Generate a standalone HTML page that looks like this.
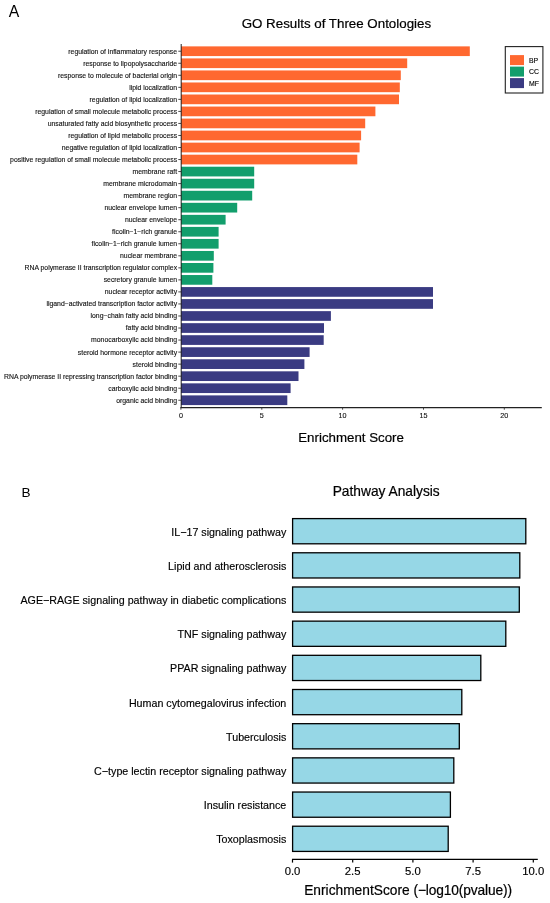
<!DOCTYPE html>
<html><head><meta charset="utf-8"><title>GO Results and Pathway Analysis</title>
<style>html,body{margin:0;padding:0;background:#fff}svg{display:block}</style></head>
<body>
<svg width="550" height="903" viewBox="0 0 550 903" font-family="'Liberation Sans', Arial, sans-serif">
<rect width="550" height="903" fill="#fff"/>
<text x="8.8" y="16.5" font-size="15.8" fill="#000">A</text>
<text x="336.4" y="27.7" font-size="13.33" fill="#000" stroke="#000" stroke-width="0.2" text-anchor="middle">GO Results of Three Ontologies</text>
<rect x="181.0" y="46.37" width="288.8" height="9.7" fill="#FF6830"/>
<line x1="178.3" x2="181.0" y1="51.22" y2="51.22" stroke="#333" stroke-width="0.9"/>
<text x="177.1" y="53.62" font-size="6.85" fill="#111" stroke="#111" stroke-width="0.12" text-anchor="end">regulation of inflammatory response</text>
<rect x="181.0" y="58.41" width="226.2" height="9.7" fill="#FF6830"/>
<line x1="178.3" x2="181.0" y1="63.26" y2="63.26" stroke="#333" stroke-width="0.9"/>
<text x="177.1" y="65.66" font-size="6.85" fill="#111" stroke="#111" stroke-width="0.12" text-anchor="end">response to lipopolysaccharide</text>
<rect x="181.0" y="70.44" width="219.8" height="9.7" fill="#FF6830"/>
<line x1="178.3" x2="181.0" y1="75.29" y2="75.29" stroke="#333" stroke-width="0.9"/>
<text x="177.1" y="77.69" font-size="6.85" fill="#111" stroke="#111" stroke-width="0.12" text-anchor="end">response to molecule of bacterial origin</text>
<rect x="181.0" y="82.48" width="218.8" height="9.7" fill="#FF6830"/>
<line x1="178.3" x2="181.0" y1="87.33" y2="87.33" stroke="#333" stroke-width="0.9"/>
<text x="177.1" y="89.73" font-size="6.85" fill="#111" stroke="#111" stroke-width="0.12" text-anchor="end">lipid localization</text>
<rect x="181.0" y="94.51" width="218.0" height="9.7" fill="#FF6830"/>
<line x1="178.3" x2="181.0" y1="99.36" y2="99.36" stroke="#333" stroke-width="0.9"/>
<text x="177.1" y="101.76" font-size="6.85" fill="#111" stroke="#111" stroke-width="0.12" text-anchor="end">regulation of lipid localization</text>
<rect x="181.0" y="106.55" width="194.4" height="9.7" fill="#FF6830"/>
<line x1="178.3" x2="181.0" y1="111.40" y2="111.40" stroke="#333" stroke-width="0.9"/>
<text x="177.1" y="113.80" font-size="6.85" fill="#111" stroke="#111" stroke-width="0.12" text-anchor="end">regulation of small molecule metabolic process</text>
<rect x="181.0" y="118.58" width="184.2" height="9.7" fill="#FF6830"/>
<line x1="178.3" x2="181.0" y1="123.43" y2="123.43" stroke="#333" stroke-width="0.9"/>
<text x="177.1" y="125.83" font-size="6.85" fill="#111" stroke="#111" stroke-width="0.12" text-anchor="end">unsaturated fatty acid biosynthetic process</text>
<rect x="181.0" y="130.62" width="180.1" height="9.7" fill="#FF6830"/>
<line x1="178.3" x2="181.0" y1="135.47" y2="135.47" stroke="#333" stroke-width="0.9"/>
<text x="177.1" y="137.87" font-size="6.85" fill="#111" stroke="#111" stroke-width="0.12" text-anchor="end">regulation of lipid metabolic process</text>
<rect x="181.0" y="142.65" width="178.6" height="9.7" fill="#FF6830"/>
<line x1="178.3" x2="181.0" y1="147.50" y2="147.50" stroke="#333" stroke-width="0.9"/>
<text x="177.1" y="149.90" font-size="6.85" fill="#111" stroke="#111" stroke-width="0.12" text-anchor="end">negative regulation of lipid localization</text>
<rect x="181.0" y="154.69" width="176.3" height="9.7" fill="#FF6830"/>
<line x1="178.3" x2="181.0" y1="159.54" y2="159.54" stroke="#333" stroke-width="0.9"/>
<text x="177.1" y="161.94" font-size="6.85" fill="#111" stroke="#111" stroke-width="0.12" text-anchor="end">positive regulation of small molecule metabolic process</text>
<rect x="181.0" y="166.72" width="73.2" height="9.7" fill="#129E6C"/>
<line x1="178.3" x2="181.0" y1="171.57" y2="171.57" stroke="#333" stroke-width="0.9"/>
<text x="177.1" y="173.97" font-size="6.85" fill="#111" stroke="#111" stroke-width="0.12" text-anchor="end">membrane raft</text>
<rect x="181.0" y="178.76" width="73.2" height="9.7" fill="#129E6C"/>
<line x1="178.3" x2="181.0" y1="183.61" y2="183.61" stroke="#333" stroke-width="0.9"/>
<text x="177.1" y="186.01" font-size="6.85" fill="#111" stroke="#111" stroke-width="0.12" text-anchor="end">membrane microdomain</text>
<rect x="181.0" y="190.79" width="71.2" height="9.7" fill="#129E6C"/>
<line x1="178.3" x2="181.0" y1="195.64" y2="195.64" stroke="#333" stroke-width="0.9"/>
<text x="177.1" y="198.04" font-size="6.85" fill="#111" stroke="#111" stroke-width="0.12" text-anchor="end">membrane region</text>
<rect x="181.0" y="202.83" width="56.2" height="9.7" fill="#129E6C"/>
<line x1="178.3" x2="181.0" y1="207.68" y2="207.68" stroke="#333" stroke-width="0.9"/>
<text x="177.1" y="210.08" font-size="6.85" fill="#111" stroke="#111" stroke-width="0.12" text-anchor="end">nuclear envelope lumen</text>
<rect x="181.0" y="214.86" width="44.6" height="9.7" fill="#129E6C"/>
<line x1="178.3" x2="181.0" y1="219.71" y2="219.71" stroke="#333" stroke-width="0.9"/>
<text x="177.1" y="222.11" font-size="6.85" fill="#111" stroke="#111" stroke-width="0.12" text-anchor="end">nuclear envelope</text>
<rect x="181.0" y="226.90" width="37.6" height="9.7" fill="#129E6C"/>
<line x1="178.3" x2="181.0" y1="231.75" y2="231.75" stroke="#333" stroke-width="0.9"/>
<text x="177.1" y="234.15" font-size="6.85" fill="#111" stroke="#111" stroke-width="0.12" text-anchor="end">ficolin−1−rich granule</text>
<rect x="181.0" y="238.93" width="37.6" height="9.7" fill="#129E6C"/>
<line x1="178.3" x2="181.0" y1="243.78" y2="243.78" stroke="#333" stroke-width="0.9"/>
<text x="177.1" y="246.18" font-size="6.85" fill="#111" stroke="#111" stroke-width="0.12" text-anchor="end">ficolin−1−rich granule lumen</text>
<rect x="181.0" y="250.97" width="32.8" height="9.7" fill="#129E6C"/>
<line x1="178.3" x2="181.0" y1="255.82" y2="255.82" stroke="#333" stroke-width="0.9"/>
<text x="177.1" y="258.22" font-size="6.85" fill="#111" stroke="#111" stroke-width="0.12" text-anchor="end">nuclear membrane</text>
<rect x="181.0" y="263.00" width="32.4" height="9.7" fill="#129E6C"/>
<line x1="178.3" x2="181.0" y1="267.85" y2="267.85" stroke="#333" stroke-width="0.9"/>
<text x="177.1" y="270.25" font-size="6.85" fill="#111" stroke="#111" stroke-width="0.12" text-anchor="end">RNA polymerase II transcription regulator complex</text>
<rect x="181.0" y="275.04" width="31.3" height="9.7" fill="#129E6C"/>
<line x1="178.3" x2="181.0" y1="279.89" y2="279.89" stroke="#333" stroke-width="0.9"/>
<text x="177.1" y="282.29" font-size="6.85" fill="#111" stroke="#111" stroke-width="0.12" text-anchor="end">secretory granule lumen</text>
<rect x="181.0" y="287.07" width="252.0" height="9.7" fill="#3A3B82"/>
<line x1="178.3" x2="181.0" y1="291.92" y2="291.92" stroke="#333" stroke-width="0.9"/>
<text x="177.1" y="294.32" font-size="6.85" fill="#111" stroke="#111" stroke-width="0.12" text-anchor="end">nuclear receptor activity</text>
<rect x="181.0" y="299.11" width="252.0" height="9.7" fill="#3A3B82"/>
<line x1="178.3" x2="181.0" y1="303.96" y2="303.96" stroke="#333" stroke-width="0.9"/>
<text x="177.1" y="306.36" font-size="6.85" fill="#111" stroke="#111" stroke-width="0.12" text-anchor="end">ligand−activated transcription factor activity</text>
<rect x="181.0" y="311.14" width="149.9" height="9.7" fill="#3A3B82"/>
<line x1="178.3" x2="181.0" y1="315.99" y2="315.99" stroke="#333" stroke-width="0.9"/>
<text x="177.1" y="318.39" font-size="6.85" fill="#111" stroke="#111" stroke-width="0.12" text-anchor="end">long−chain fatty acid binding</text>
<rect x="181.0" y="323.18" width="143.0" height="9.7" fill="#3A3B82"/>
<line x1="178.3" x2="181.0" y1="328.03" y2="328.03" stroke="#333" stroke-width="0.9"/>
<text x="177.1" y="330.43" font-size="6.85" fill="#111" stroke="#111" stroke-width="0.12" text-anchor="end">fatty acid binding</text>
<rect x="181.0" y="335.21" width="142.7" height="9.7" fill="#3A3B82"/>
<line x1="178.3" x2="181.0" y1="340.06" y2="340.06" stroke="#333" stroke-width="0.9"/>
<text x="177.1" y="342.46" font-size="6.85" fill="#111" stroke="#111" stroke-width="0.12" text-anchor="end">monocarboxylic acid binding</text>
<rect x="181.0" y="347.25" width="128.6" height="9.7" fill="#3A3B82"/>
<line x1="178.3" x2="181.0" y1="352.10" y2="352.10" stroke="#333" stroke-width="0.9"/>
<text x="177.1" y="354.50" font-size="6.85" fill="#111" stroke="#111" stroke-width="0.12" text-anchor="end">steroid hormone receptor activity</text>
<rect x="181.0" y="359.28" width="123.4" height="9.7" fill="#3A3B82"/>
<line x1="178.3" x2="181.0" y1="364.13" y2="364.13" stroke="#333" stroke-width="0.9"/>
<text x="177.1" y="366.53" font-size="6.85" fill="#111" stroke="#111" stroke-width="0.12" text-anchor="end">steroid binding</text>
<rect x="181.0" y="371.32" width="117.5" height="9.7" fill="#3A3B82"/>
<line x1="178.3" x2="181.0" y1="376.17" y2="376.17" stroke="#333" stroke-width="0.9"/>
<text x="177.1" y="378.57" font-size="6.85" fill="#111" stroke="#111" stroke-width="0.12" text-anchor="end">RNA polymerase II repressing transcription factor binding</text>
<rect x="181.0" y="383.35" width="109.6" height="9.7" fill="#3A3B82"/>
<line x1="178.3" x2="181.0" y1="388.20" y2="388.20" stroke="#333" stroke-width="0.9"/>
<text x="177.1" y="390.60" font-size="6.85" fill="#111" stroke="#111" stroke-width="0.12" text-anchor="end">carboxylic acid binding</text>
<rect x="181.0" y="395.39" width="106.3" height="9.7" fill="#3A3B82"/>
<line x1="178.3" x2="181.0" y1="400.24" y2="400.24" stroke="#333" stroke-width="0.9"/>
<text x="177.1" y="402.64" font-size="6.85" fill="#111" stroke="#111" stroke-width="0.12" text-anchor="end">organic acid binding</text>
<line x1="181.2" x2="181.2" y1="44.0" y2="408" stroke="#222" stroke-width="1"/>
<line x1="180.5" x2="541.8" y1="407.6" y2="407.6" stroke="#222" stroke-width="1.1"/>
<line x1="180.9" x2="180.9" y1="407.6" y2="409.7" stroke="#333" stroke-width="0.9"/>
<text x="180.9" y="417.8" font-size="7.2" fill="#111" stroke="#111" stroke-width="0.12" text-anchor="middle">0</text>
<line x1="261.8" x2="261.8" y1="407.6" y2="409.7" stroke="#333" stroke-width="0.9"/>
<text x="261.8" y="417.8" font-size="7.2" fill="#111" stroke="#111" stroke-width="0.12" text-anchor="middle">5</text>
<line x1="342.6" x2="342.6" y1="407.6" y2="409.7" stroke="#333" stroke-width="0.9"/>
<text x="342.6" y="417.8" font-size="7.2" fill="#111" stroke="#111" stroke-width="0.12" text-anchor="middle">10</text>
<line x1="423.5" x2="423.5" y1="407.6" y2="409.7" stroke="#333" stroke-width="0.9"/>
<text x="423.5" y="417.8" font-size="7.2" fill="#111" stroke="#111" stroke-width="0.12" text-anchor="middle">15</text>
<line x1="504.3" x2="504.3" y1="407.6" y2="409.7" stroke="#333" stroke-width="0.9"/>
<text x="504.3" y="417.8" font-size="7.2" fill="#111" stroke="#111" stroke-width="0.12" text-anchor="middle">20</text>
<text x="351.1" y="441.5" font-size="13.3" fill="#000" stroke="#000" stroke-width="0.2" text-anchor="middle">Enrichment Score</text>
<rect x="505.3" y="46.6" width="37.6" height="46.4" fill="#fff" stroke="#222" stroke-width="1.1"/>
<rect x="510" y="55.1" width="14" height="10" fill="#FF6830"/>
<text x="529" y="62.6" font-size="6.9" fill="#000" stroke="#000" stroke-width="0.12">BP</text>
<rect x="510" y="66.6" width="14" height="10" fill="#129E6C"/>
<text x="529" y="74.1" font-size="6.9" fill="#000" stroke="#000" stroke-width="0.12">CC</text>
<rect x="510" y="78.1" width="14" height="10" fill="#3A3B82"/>
<text x="529" y="85.6" font-size="6.9" fill="#000" stroke="#000" stroke-width="0.12">MF</text>
<text x="21.4" y="497.0" font-size="13.6" fill="#000">B</text>
<text x="386.2" y="496.0" font-size="13.75" fill="#000" stroke="#000" stroke-width="0.2" text-anchor="middle">Pathway Analysis</text>
<rect x="292.6" y="518.60" width="233.2" height="25.2" fill="#96D7E6" stroke="#000" stroke-width="1.3"/>
<text x="286.3" y="535.60" font-size="10.69" fill="#000" stroke="#000" stroke-width="0.15" text-anchor="end">IL−17 signaling pathway</text>
<rect x="292.6" y="552.78" width="227.2" height="25.2" fill="#96D7E6" stroke="#000" stroke-width="1.3"/>
<text x="286.3" y="569.78" font-size="10.69" fill="#000" stroke="#000" stroke-width="0.15" text-anchor="end">Lipid and atherosclerosis</text>
<rect x="292.6" y="586.96" width="226.7" height="25.2" fill="#96D7E6" stroke="#000" stroke-width="1.3"/>
<text x="286.3" y="603.96" font-size="10.69" fill="#000" stroke="#000" stroke-width="0.15" text-anchor="end">AGE−RAGE signaling pathway in diabetic complications</text>
<rect x="292.6" y="621.14" width="213.2" height="25.2" fill="#96D7E6" stroke="#000" stroke-width="1.3"/>
<text x="286.3" y="638.14" font-size="10.69" fill="#000" stroke="#000" stroke-width="0.15" text-anchor="end">TNF signaling pathway</text>
<rect x="292.6" y="655.32" width="188.2" height="25.2" fill="#96D7E6" stroke="#000" stroke-width="1.3"/>
<text x="286.3" y="672.32" font-size="10.69" fill="#000" stroke="#000" stroke-width="0.15" text-anchor="end">PPAR signaling pathway</text>
<rect x="292.6" y="689.50" width="169.2" height="25.2" fill="#96D7E6" stroke="#000" stroke-width="1.3"/>
<text x="286.3" y="706.50" font-size="10.69" fill="#000" stroke="#000" stroke-width="0.15" text-anchor="end">Human cytomegalovirus infection</text>
<rect x="292.6" y="723.68" width="166.7" height="25.2" fill="#96D7E6" stroke="#000" stroke-width="1.3"/>
<text x="286.3" y="740.68" font-size="10.69" fill="#000" stroke="#000" stroke-width="0.15" text-anchor="end">Tuberculosis</text>
<rect x="292.6" y="757.86" width="161.2" height="25.2" fill="#96D7E6" stroke="#000" stroke-width="1.3"/>
<text x="286.3" y="774.86" font-size="10.69" fill="#000" stroke="#000" stroke-width="0.15" text-anchor="end">C−type lectin receptor signaling pathway</text>
<rect x="292.6" y="792.04" width="157.8" height="25.2" fill="#96D7E6" stroke="#000" stroke-width="1.3"/>
<text x="286.3" y="809.04" font-size="10.69" fill="#000" stroke="#000" stroke-width="0.15" text-anchor="end">Insulin resistance</text>
<rect x="292.6" y="826.22" width="155.6" height="25.2" fill="#96D7E6" stroke="#000" stroke-width="1.3"/>
<text x="286.3" y="843.22" font-size="10.69" fill="#000" stroke="#000" stroke-width="0.15" text-anchor="end">Toxoplasmosis</text>
<line x1="292" x2="537.8" y1="859.3" y2="859.3" stroke="#000" stroke-width="1.2"/>
<line x1="292.5" x2="292.5" y1="859.3" y2="862.6" stroke="#000" stroke-width="1.2"/>
<text x="292.5" y="875.1" font-size="11.3" fill="#000" stroke="#000" stroke-width="0.15" text-anchor="middle">0.0</text>
<line x1="352.7" x2="352.7" y1="859.3" y2="862.6" stroke="#000" stroke-width="1.2"/>
<text x="352.7" y="875.1" font-size="11.3" fill="#000" stroke="#000" stroke-width="0.15" text-anchor="middle">2.5</text>
<line x1="412.9" x2="412.9" y1="859.3" y2="862.6" stroke="#000" stroke-width="1.2"/>
<text x="412.9" y="875.1" font-size="11.3" fill="#000" stroke="#000" stroke-width="0.15" text-anchor="middle">5.0</text>
<line x1="473.1" x2="473.1" y1="859.3" y2="862.6" stroke="#000" stroke-width="1.2"/>
<text x="473.1" y="875.1" font-size="11.3" fill="#000" stroke="#000" stroke-width="0.15" text-anchor="middle">7.5</text>
<line x1="533.3" x2="533.3" y1="859.3" y2="862.6" stroke="#000" stroke-width="1.2"/>
<text x="533.3" y="875.1" font-size="11.3" fill="#000" stroke="#000" stroke-width="0.15" text-anchor="middle">10.0</text>
<text x="304.2" y="895.3" font-size="13.75" fill="#000" stroke="#000" stroke-width="0.2">EnrichmentScore <tspan letter-spacing="-0.13">(−log10(pvalue))</tspan></text>
</svg>
</body></html>
